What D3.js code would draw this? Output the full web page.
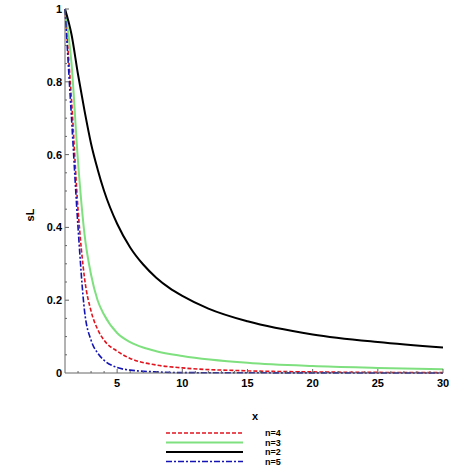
<!doctype html>
<html>
<head>
<meta charset="UTF-8">
<script src="https://cdn.jsdelivr.net/npm/d3@7"></script>
<style>
  body { margin: 0; background: #fff; }
  text { font-family: "Liberation Sans", Arial, sans-serif; font-weight: bold; font-size: 11px; }
  .leg { font-size: 9px; }
</style>
</head>
<body>
<svg id="chart" width="474" height="474"></svg>
<script>
var xTicks = [5, 10, 15, 20, 25, 30];
var yTicks = [0, 0.2, 0.4, 0.6, 0.8, 1];

var n2 = [[1,1],[1.5,0.93],[2,0.82],[2.5,0.72],[3,0.63],[3.5,0.56],[4,0.5],[5,0.41],[6,0.345],[7,0.298],[8,0.262],[9,0.234],[10,0.212],[12,0.177],[15,0.142],[20,0.106],[25,0.085],[30,0.07]];
var n3 = [[1,1],[1.5,0.85],[2,0.58],[2.5,0.38],[3,0.27],[3.5,0.2],[4,0.16],[5,0.11],[6,0.085],[7,0.07],[8,0.06],[10,0.047],[15,0.028],[20,0.019],[25,0.014],[30,0.01]];
var n4 = [[1,1],[1.5,0.75],[2,0.45],[2.5,0.26],[3,0.17],[3.5,0.12],[4,0.09],[5,0.06],[6,0.04],[8,0.022],[10,0.014],[15,0.006],[20,0.003],[30,0.001]];
var n5 = [[1,1],[1.5,0.7],[2,0.4],[2.5,0.17],[3,0.09],[3.5,0.055],[4,0.035],[5,0.015],[6,0.008],[8,0.003],[10,0.001],[30,0]];

var series = [
  { name: 'n=4', data: n4, color: '#e0141e', dash: '4,2', width: 1.6 },
  { name: 'n=3', data: n3, color: '#7fe07f', dash: null, width: 2 },
  { name: 'n=2', data: n2, color: '#000000', dash: null, width: 2 },
  { name: 'n=5', data: n5, color: '#1414b4', dash: '6,2,2,2', width: 1.6 }
];

var svg = d3.select('#chart');
var x = d3.scaleLinear().domain([1, 30]).range([65, 443]);
var y = d3.scaleLinear().domain([0, 1]).range([373, 9]);

var line = d3.line()
  .x(function(d) { return x(d[0]); })
  .y(function(d) { return y(d[1]); })
  .curve(d3.curveMonotoneX);

series.forEach(function(s) {
  svg.append('path')
    .attr('d', line(s.data))
    .attr('fill', 'none')
    .attr('stroke', s.color)
    .attr('stroke-width', s.width)
    .attr('stroke-dasharray', s.dash);
});

// axes
svg.append('line').attr('x1', x(1)).attr('x2', x(30)).attr('y1', y(0)).attr('y2', y(0)).attr('stroke', '#666');
svg.append('line').attr('x1', x(1)).attr('x2', x(1)).attr('y1', y(0)).attr('y2', y(1)).attr('stroke', '#666');

svg.selectAll('.xmin').data(d3.range(2, 31)).enter().append('line')
  .attr('x1', function(d) { return x(d); }).attr('x2', function(d) { return x(d); })
  .attr('y1', y(0)).attr('y2', function(d) { return d % 5 === 0 ? y(0) - 4 : y(0) - 2; })
  .attr('stroke', '#666');
svg.selectAll('.ymin').data(d3.range(1, 21)).enter().append('line')
  .attr('y1', function(d) { return y(d / 20); }).attr('y2', function(d) { return y(d / 20); })
  .attr('x1', x(1)).attr('x2', function(d) { return d % 4 === 0 ? x(1) + 4 : x(1) + 2; })
  .attr('stroke', '#666');

svg.selectAll('.xl').data(xTicks).enter().append('text')
  .attr('x', function(d) { return x(d); }).attr('y', y(0) + 14)
  .attr('text-anchor', 'middle').text(function(d) { return d; });
svg.selectAll('.yl').data(yTicks).enter().append('text')
  .attr('x', x(1) - 3).attr('y', function(d) { return y(d) + 4; })
  .attr('text-anchor', 'end').text(function(d) { return d; });

svg.append('text').attr('x', 255).attr('y', 420).attr('text-anchor', 'middle').text('x');
svg.append('text').attr('transform', 'translate(34,215) rotate(-90)')
  .attr('text-anchor', 'middle').text('sL');

// legend
series.forEach(function(s, i) {
  var ly = 433 + i * 9.5;
  svg.append('line').attr('x1', 166).attr('x2', 243).attr('y1', ly).attr('y2', ly)
    .attr('stroke', s.color).attr('stroke-width', s.width).attr('stroke-dasharray', s.dash);
  svg.append('text').attr('class', 'leg').attr('x', 265).attr('y', ly + 3).text(s.name);
});
</script>
</body>
</html>
